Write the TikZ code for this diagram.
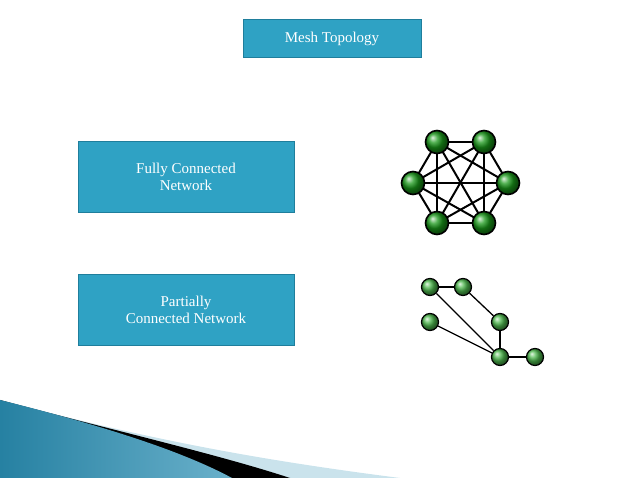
\documentclass[tikz,border=0pt]{standalone}
\usepackage{fontspec}
\setmainfont{Liberation Serif}
\begin{document}
\begin{tikzpicture}[x=1pt,y=-1pt,
  box/.style={draw=boxedge,line width=1pt,fill=boxfill,text=white,font=\fontsize{15}{17}\selectfont,align=center,inner sep=0pt},
  bignode/.style={circle,draw=black,line width=1.6pt,inner sep=0pt,minimum size=23pt,ball color=green!55!black!90},
  smallnode/.style={circle,draw=black,line width=1.2pt,inner sep=0pt,minimum size=17pt,ball color=green!60!black!70},
  link/.style={line width=2pt},
  slink/.style={line width=1.3pt}]
\definecolor{boxfill}{HTML}{2FA2C4}
\definecolor{boxedge}{HTML}{1F7E9C}
\definecolor{swoosh}{HTML}{2A8FB4}
\useasboundingbox (0,0) rectangle (638,478);
% swoosh
\fill[swoosh!25] (0,400) .. controls (150,440) and (260,460) .. (400,478) -- (0,478) -- cycle;
\fill[black] (0,400) .. controls (120,432) and (220,455) .. (290,478) -- (0,478) -- cycle;
\shade[left color=swoosh!90!black,right color=swoosh!70!white] (0,400) .. controls (100,425) and (180,450) .. (232,478) -- (0,478) -- cycle;
% boxes
\node[box,minimum width=178pt,minimum height=38pt] (title) at (332,39) {Mesh Topology};
\node[box,minimum width=216pt,minimum height=71pt] (full) at (186,177) {Fully Connected\\Network};
\node[box,minimum width=216pt,minimum height=71pt] (part) at (186,310) {Partially\\Connected Network};
% full mesh
\coordinate (a) at (437,142); \coordinate (b) at (484,142);
\coordinate (c) at (508,183); \coordinate (d) at (484,223);
\coordinate (e) at (437,223); \coordinate (f) at (413,183);
\foreach \p/\q in {a/b,a/c,a/d,a/e,a/f,b/c,b/d,b/e,b/f,c/d,c/e,c/f,d/e,d/f,e/f}
  \draw[link] (\p) -- (\q);
\foreach \p in {a,b,c,d,e,f} \node[bignode] (n\p) at (\p) {};
% partial mesh
\node[smallnode] (p1) at (430,287) {};
\node[smallnode] (p2) at (463,287) {};
\node[smallnode] (p3) at (430,322) {};
\node[smallnode] (p4) at (500,322) {};
\node[smallnode] (p5) at (500,357) {};
\node[smallnode] (p6) at (535,357) {};
\begin{scope}[on background layer/.style={}]
\end{scope}
\foreach \p/\q in {p1/p2,p1/p5,p2/p4,p4/p5,p3/p5,p5/p6}
  \draw[slink] (\p) -- (\q);
\end{tikzpicture}
\end{document}
